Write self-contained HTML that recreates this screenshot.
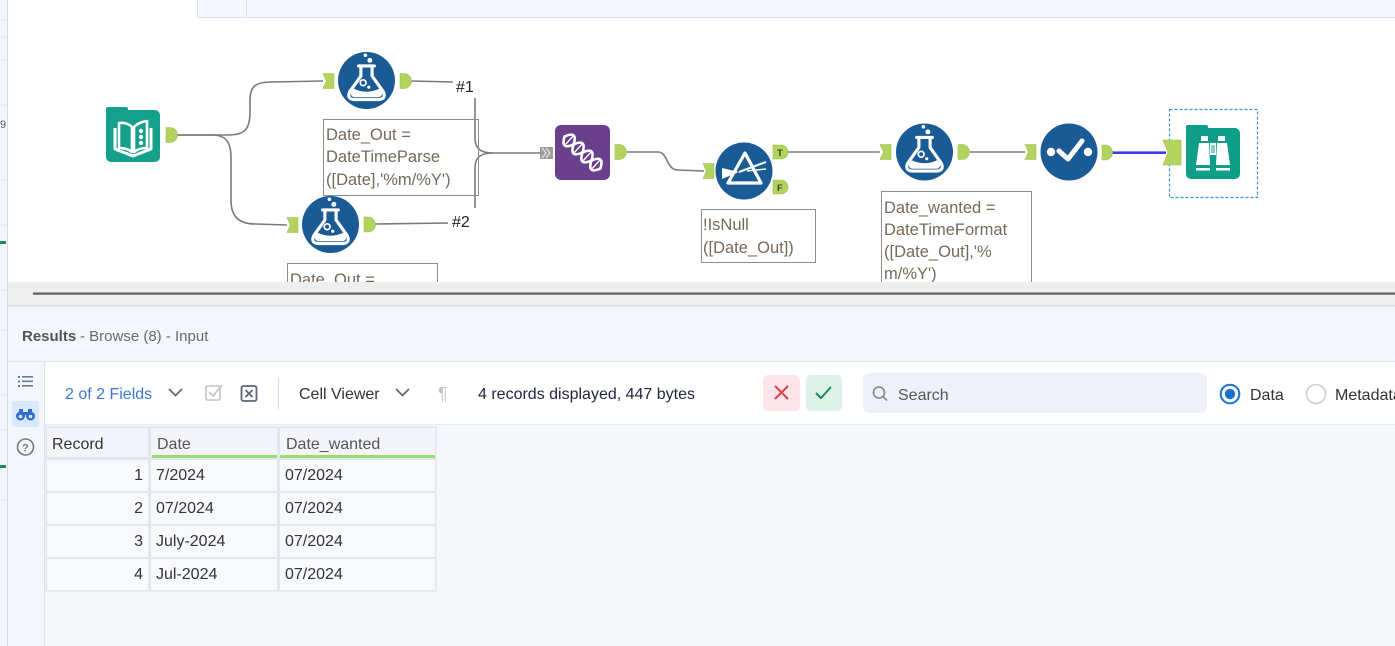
<!DOCTYPE html>
<html>
<head>
<meta charset="utf-8">
<style>
  html,body{margin:0;padding:0;width:1395px;height:646px;overflow:hidden;background:#f5f7fb;}
  svg{display:block;}
  text{font-family:"Liberation Sans", sans-serif;}
</style>
</head>
<body>
<svg width="1395" height="646" viewBox="0 0 1395 646" xmlns="http://www.w3.org/2000/svg">
  <defs>
    <clipPath id="cv"><rect x="8" y="0" width="1387" height="282"/></clipPath>
    <g id="flask">
      <circle r="28.5" fill="#1b5b95"/>
      <g transform="scale(1.12)">
        <path d="M-5,-13 L-5,-4 L-15,10 Q-18,17 -10,17 L10,17 Q18,17 15,10 L5,-4 L5,-13" fill="none" stroke="#fff" stroke-width="2.8" stroke-linejoin="round"/>
        <line x1="-7" y1="-13" x2="7" y2="-13" stroke="#fff" stroke-width="2.8" stroke-linecap="round"/>
        <path d="M-12,7 Q0,13 12,7 L14,11 Q14,15 10,15 L-10,15 Q-14,15 -14,11 Z" fill="#fff"/>
        <circle cx="-3" cy="2" r="2.6" fill="none" stroke="#fff" stroke-width="1.5"/>
        <circle cx="2" cy="6" r="1.4" fill="#fff"/>
        <circle cx="3" cy="-18" r="2.2" fill="#fff"/>
        <circle cx="-1" cy="-22.5" r="1.6" fill="#fff"/>
      </g>
    </g>
  </defs>

  <!-- canvas -->
  <rect x="8" y="0" width="1387" height="282" fill="#ffffff"/>
  <!-- left strip -->
  <rect x="0" y="0" width="7" height="646" fill="#f3f6fb"/>
  <line x1="7.5" y1="0" x2="7.5" y2="646" stroke="#d6dce6" stroke-width="1"/>
  <g stroke="#e2e7ef" stroke-width="1">
    <line x1="0" y1="20" x2="7" y2="20"/><line x1="0" y1="37" x2="7" y2="37"/>
    <line x1="0" y1="60" x2="7" y2="60"/><line x1="0" y1="105" x2="7" y2="105"/>
    <line x1="0" y1="180" x2="7" y2="180"/><line x1="0" y1="225" x2="7" y2="225"/>
    <line x1="0" y1="290" x2="7" y2="290"/><line x1="0" y1="330" x2="7" y2="330"/>
    <line x1="0" y1="395" x2="7" y2="395"/><line x1="0" y1="430" x2="7" y2="430"/>
    <line x1="0" y1="500" x2="7" y2="500"/>
  </g>
  <rect x="0" y="241" width="6" height="3" fill="#1e8a5a"/>
  <rect x="0" y="465" width="6" height="3" fill="#1e8a5a"/>
  <text x="0" y="128" font-size="11" fill="#555">9</text>

  <!-- top bar -->
  <rect x="197.5" y="-1" width="1200" height="18.5" fill="#f3f6fc" stroke="#dbe2ee"/>
  <line x1="246.5" y1="0" x2="246.5" y2="17" stroke="#dbe2ee"/>

  <g clip-path="url(#cv)">
    <!-- connectors -->
    <g fill="none" stroke="#7a7a7a" stroke-width="1.6">
      <path d="M177,135 L228,135 C246,135 250,128 250,112 L250,100 C250,86 256,82 272,82 L323,81"/>
      <path d="M177,135 L212,135 C226,135 231,142 231,158 L231,200 C231,216 238,224 256,224 L287,225"/>
      <path d="M411,81 L453,82"/>
      <path d="M375,224 L448,223"/>
      <path d="M475,98 L475,138 C475,149 481,153 493,153 L541,153"/>
      <path d="M475,208 L475,168 C475,157 481,153 493,153"/>
      <path d="M627,152 L658,152 C668,152 666,170 678,170 L704,171"/>
      <path d="M788,152 L880,152"/>
      <path d="M970,152 L1025,152"/>
    </g>
    <line x1="1112" y1="152.7" x2="1166" y2="152.7" stroke="#3b3bf0" stroke-width="2.6"/>

    <!-- #1 #2 -->
    <text x="456" y="92" font-size="16" fill="#222">#1</text>
    <text x="452" y="227" font-size="16" fill="#222">#2</text>

    <!-- Input (book) -->
    <g transform="translate(106,107)">
      <rect x="0" y="0" width="22" height="8" rx="2" fill="#14a08a"/>
      <rect x="0" y="3" width="54" height="52" rx="5" fill="#14a08a"/>
      <path d="M9,21 L9,42 L27,49 L45,42 L45,21" fill="none" stroke="#fff" stroke-width="3" stroke-linejoin="round"/>
      <path d="M13,16 Q21,15 26,20 L26,45 Q21,41 13,41 Z" fill="none" stroke="#fff" stroke-width="2.6" stroke-linejoin="round"/>
      <path d="M28,20 Q33,15 41,14 L41,41 Q33,41 28,45 Z" fill="none" stroke="#fff" stroke-width="2.6" stroke-linejoin="round"/>
      <circle cx="35" cy="24" r="2.2" fill="#fff"/>
      <circle cx="35" cy="30" r="2.2" fill="#fff"/>
      <circle cx="35" cy="36" r="2.2" fill="#fff"/>
    </g>

    <!-- Formula 1 and 2 -->
    <use href="#flask" transform="translate(366.5,80.5)"/>
    <use href="#flask" transform="translate(330.5,224.5)"/>

    <!-- Label 1 -->
    <rect x="323.5" y="119.5" width="155" height="76" fill="none" stroke="#8c8c8c" stroke-width="1"/>
    <g font-size="16.5" fill="#76695a">
      <text x="326" y="140">Date_Out =</text>
      <text x="326" y="162">DateTimeParse</text>
      <text x="326" y="185">([Date],'%m/%Y')</text>
    </g>
    <!-- Label 2 -->
    <rect x="287.5" y="263.5" width="150" height="40" fill="none" stroke="#8c8c8c" stroke-width="1"/>
    <text x="290" y="285" font-size="16.5" fill="#76695a">Date_Out =</text>

    <!-- Join (DNA) -->
    <rect x="555" y="125" width="55" height="55" rx="6" fill="#6a3f8c"/>
    <g transform="translate(582.5,152.5) rotate(42)" fill="none" stroke="#fff" stroke-width="2.6" stroke-linecap="round">
      <path d="M-24,0 C-20,-9 -16,-9 -12,0 C-8,9 -4,9 0,0 C4,-9 8,-9 12,0 C16,9 20,9 24,0"/>
      <path d="M-24,0 C-20,9 -16,9 -12,0 C-8,-9 -4,-9 0,0 C4,9 8,9 12,0 C16,-9 20,-9 24,0"/>
      <g stroke-width="1.4">
        <line x1="-18" y1="-5" x2="-18" y2="5"/>
        <line x1="-6" y1="-5" x2="-6" y2="5"/>
        <line x1="6" y1="-5" x2="6" y2="5"/>
        <line x1="18" y1="-5" x2="18" y2="5"/>
      </g>
    </g>
    <!-- join input (gray chevrons) -->
    <g transform="translate(540,147)">
      <rect x="0" y="0" width="13" height="12" fill="#9b9b9b"/>
      <path d="M2,1 L6,6 L2,11 M6,1 L10,6 L6,11" stroke="#e6e6e6" stroke-width="1.3" fill="none"/>
    </g>

    <!-- Filter -->
    <g transform="translate(744,171)">
      <circle r="28.5" fill="#1b5b95"/>
      <path d="M1,-18 L-16,12 L17,12 Z" fill="none" stroke="#fff" stroke-width="3.2" stroke-linejoin="round"/>
      <path d="M-22,-3 L-5,1 L-22,8 Z" fill="#fff"/>
      <line x1="-5" y1="1" x2="22" y2="-9" stroke="#fff" stroke-width="2"/>
      <line x1="3" y1="0" x2="22" y2="-2" stroke="#fff" stroke-width="1.4"/>
    </g>

    <!-- Filter label -->
    <rect x="701.5" y="209.5" width="114" height="53" fill="none" stroke="#8c8c8c" stroke-width="1"/>
    <g font-size="16.5" fill="#76695a">
      <text x="703" y="230">!IsNull</text>
      <text x="703" y="253">([Date_Out])</text>
    </g>

    <!-- Formula 3 -->
    <use href="#flask" transform="translate(924.5,152)"/>
    <rect x="881.5" y="191.5" width="150" height="120" fill="none" stroke="#8c8c8c" stroke-width="1"/>
    <g font-size="16.5" fill="#76695a">
      <text x="884" y="213">Date_wanted =</text>
      <text x="884" y="235">DateTimeFormat</text>
      <text x="884" y="257">([Date_Out],'%</text>
      <text x="884" y="279">m/%Y')</text>
    </g>

    <!-- Select (check) -->
    <g transform="translate(1069,152)">
      <circle r="28.5" fill="#1b5b95"/>
      <circle cx="-18" cy="0" r="4.2" fill="#fff"/>
      <circle cx="19" cy="0" r="4.2" fill="#fff"/>
      <path d="M-10,-1 L-1,7 L13,-11" fill="none" stroke="#fff" stroke-width="5" stroke-linecap="round" stroke-linejoin="round"/>
    </g>

    <!-- Browse -->
    <rect x="1169.5" y="109.5" width="88" height="88" fill="none" stroke="#3a8ee6" stroke-width="1.2" stroke-dasharray="3,2"/>
    <g transform="translate(1186,125)">
      <rect x="0" y="0" width="22" height="8" rx="2" fill="#0f9e88"/>
      <rect x="0" y="3" width="54" height="51" rx="5" fill="#0f9e88"/>
      <rect x="15" y="11" width="7" height="5" fill="#fff"/>
      <rect x="32" y="11" width="7" height="5" fill="#fff"/>
      <path d="M13,18 L23,18 L24,40 L10,40 Z" fill="#fff"/>
      <path d="M31,18 L41,18 L44,40 L30,40 Z" fill="#fff"/>
      <rect x="24" y="18" width="6" height="12" fill="#fff"/>
      <rect x="10" y="43" width="14" height="2.5" fill="#fff"/>
      <rect x="30" y="43" width="14" height="2.5" fill="#fff"/>
      <line x1="26" y1="20" x2="26" y2="28" stroke="#0f9e88" stroke-width="1"/>
      <line x1="28" y1="20" x2="28" y2="28" stroke="#0f9e88" stroke-width="1"/>
    </g>

    <!-- anchors -->
    <g fill="#b2d45f" stroke="#9cbf4a" stroke-width="0.6">
      <path d="M166,127.5 h4 a7.5,7.5 0 0 1 0,15 h-4 z"/>
      <path d="M400,73.5 h4 a7.5,7.5 0 0 1 0,15 h-4 z"/>
      <path d="M364,217 h4 a7.5,7.5 0 0 1 0,15 h-4 z"/>
      <path d="M615,144.5 h4 a7.5,7.5 0 0 1 0,15 h-4 z"/>
      <path d="M958,144.5 h4 a7.5,7.5 0 0 1 0,15 h-4 z"/>
      <path d="M1102,145 h3 a7.5,7.5 0 0 1 0,15 h-3 z"/>
      <path d="M323,73.5 L334,73.5 L334,88.5 L323,88.5 L326.5,81 Z"/>
      <path d="M287,217.5 L298,217.5 L298,232.5 L287,232.5 L290.5,225 Z"/>
      <path d="M703,163.5 L714,163.5 L714,178.5 L703,178.5 L706.5,171 Z"/>
      <path d="M880,144.5 L891,144.5 L891,159.5 L880,159.5 L883.5,152 Z"/>
      <path d="M1025,144.5 L1036,144.5 L1036,159.5 L1025,159.5 L1028.5,152 Z"/>
      <path d="M1163,140 L1181,140 L1181,165 L1163,165 L1168,152.5 Z"/>
      <path d="M773,145 h8 a7,7 0 0 1 0,14 h-8 z"/>
      <path d="M773,180 h8 a7,7 0 0 1 0,14 h-8 z"/>
    </g>
    <text x="777" y="156" font-size="9.5" font-weight="bold" fill="#3a4a20">T</text>
    <text x="777" y="191" font-size="9.5" font-weight="bold" fill="#3a4a20">F</text>
  </g>

  <!-- splitter -->
  <rect x="8" y="282" width="1387" height="24" fill="#eeeeee"/>
  <rect x="33" y="292.5" width="1362" height="2.2" fill="#5e5e5e"/>
  <rect x="8" y="305" width="1387" height="2" fill="#e0e6ee"/>

  <!-- results header -->
  <rect x="8" y="307" width="1387" height="54" fill="#f3f6fb"/>
  <text x="22" y="341" font-size="15" font-weight="bold" fill="#555">Results</text>
  <text x="80" y="341" font-size="15" fill="#6a6a6a"> - Browse (8) - Input</text>
  <line x1="8" y1="361.5" x2="1395" y2="361.5" stroke="#e0e6ee"/>

  <!-- sidebar -->
  <rect x="8" y="362" width="36" height="284" fill="#f3f6fb"/>
  <line x1="44.5" y1="362" x2="44.5" y2="646" stroke="#dde3ec"/>
  <g fill="#6a7a90">
    <rect x="18" y="376" width="2" height="2"/><rect x="22" y="376" width="11" height="1.6"/>
    <rect x="18" y="380.5" width="2" height="2"/><rect x="22" y="380.5" width="11" height="1.6"/>
    <rect x="18" y="385" width="2" height="2"/><rect x="22" y="385" width="11" height="1.6"/>
  </g>
  <rect x="12" y="401" width="27" height="26" rx="3" fill="#dbe8fa"/>
  <g fill="#2f6fcf">
    <circle cx="20.5" cy="416" r="4.5"/><circle cx="30.5" cy="416" r="4.5"/>
    <rect x="19" y="409" width="4" height="5"/><rect x="28" y="409" width="4" height="5"/>
    <rect x="23" y="412" width="5" height="3"/>
  </g>
  <circle cx="20.5" cy="416.5" r="1.8" fill="#dbe8fa"/><circle cx="30.5" cy="416.5" r="1.8" fill="#dbe8fa"/>
  <circle cx="25.5" cy="447" r="8" fill="none" stroke="#777" stroke-width="1.6"/>
  <text x="22" y="451.5" font-size="11" font-weight="bold" fill="#777">?</text>

  <!-- toolbar -->
  <rect x="45" y="362" width="1350" height="62" fill="#ffffff"/>
  <line x1="45" y1="424.5" x2="1395" y2="424.5" stroke="#e6eaf1"/>
  <text x="65" y="399" font-size="16" fill="#3a78d8">2 of 2 Fields</text>
  <path d="M169,389 L175.5,395.5 L182,389" fill="none" stroke="#667" stroke-width="1.8"/>
  <rect x="206" y="386" width="14" height="14" rx="1.5" fill="none" stroke="#c4c4c4" stroke-width="1.6"/>
  <path d="M209,392 L213,396 L222,385" fill="none" stroke="#c4c4c4" stroke-width="1.6"/>
  <rect x="241.5" y="386" width="15" height="15" rx="2" fill="none" stroke="#5d6675" stroke-width="1.8"/>
  <path d="M245.5,390 L252.5,397 M252.5,390 L245.5,397" stroke="#5d6675" stroke-width="1.8"/>
  <line x1="278.5" y1="378" x2="278.5" y2="409" stroke="#d8dde5" stroke-width="1.2"/>
  <text x="299" y="399" font-size="16" fill="#333">Cell Viewer</text>
  <path d="M396,389 L402.5,395.5 L409,389" fill="none" stroke="#667" stroke-width="1.8"/>
  <text x="438" y="400" font-size="18" fill="#c4c4c4">¶</text>
  <text x="478" y="399" font-size="16" fill="#23263f">4 records displayed, 447 bytes</text>
  <rect x="763" y="375" width="37" height="36" rx="5" fill="#fde6e9"/>
  <path d="M775,386 L788,399 M788,386 L775,399" stroke="#e0404f" stroke-width="2"/>
  <rect x="806" y="375" width="36" height="36" rx="5" fill="#ddf3e9"/>
  <path d="M816,393 L821,398 L831,387" fill="none" stroke="#1f8a52" stroke-width="2"/>
  <rect x="863" y="373" width="344" height="40" rx="6" fill="#eef2f8"/>
  <circle cx="879" cy="392.5" r="5.5" fill="none" stroke="#7a8494" stroke-width="1.6"/>
  <line x1="883" y1="396.5" x2="887" y2="400.5" stroke="#7a8494" stroke-width="1.6"/>
  <text x="898" y="400" font-size="16" fill="#555">Search</text>
  <circle cx="1230" cy="394" r="9.3" fill="none" stroke="#1a6fd0" stroke-width="2"/>
  <circle cx="1230" cy="394" r="5.2" fill="#1a6fd0"/>
  <text x="1250" y="400" font-size="16" fill="#333">Data</text>
  <circle cx="1316" cy="394" r="9.5" fill="none" stroke="#cfcfcf" stroke-width="1.6"/>
  <text x="1335" y="400" font-size="16" fill="#333">Metadata</text>

  <!-- table -->
  <rect x="45.5" y="426.5" width="391" height="165" fill="#e1e6ef"/>
  <rect x="47" y="428" width="101" height="29" fill="#f3f5fa"/>
  <rect x="151" y="428" width="126" height="29" fill="#f3f5fa"/>
  <rect x="280" y="428" width="155" height="29" fill="#f3f5fa"/>
  <rect x="152" y="455" width="125" height="3" fill="#93e070"/>
  <rect x="280" y="455" width="155" height="3" fill="#93e070"/>
  <g font-size="16" fill="#333">
    <text x="52" y="449">Record</text>
    <text x="157" y="449" fill="#555">Date</text>
    <text x="286" y="449" fill="#555">Date_wanted</text>
  </g>
  <g fill="#f8f9fc">
    <rect x="47" y="460" width="101" height="31"/><rect x="151" y="460" width="126" height="31"/><rect x="280" y="460" width="155" height="31"/>
    <rect x="47" y="493" width="101" height="31"/><rect x="151" y="493" width="126" height="31"/><rect x="280" y="493" width="155" height="31"/>
    <rect x="47" y="526" width="101" height="31"/><rect x="151" y="526" width="126" height="31"/><rect x="280" y="526" width="155" height="31"/>
    <rect x="47" y="559" width="101" height="31"/><rect x="151" y="559" width="126" height="31"/><rect x="280" y="559" width="155" height="31"/>
  </g>
  <g font-size="16" fill="#333">
    <text x="143" y="480" text-anchor="end">1</text>
    <text x="156" y="480">7/2024</text>
    <text x="285" y="480">07/2024</text>
    <text x="143" y="513" text-anchor="end">2</text>
    <text x="156" y="513">07/2024</text>
    <text x="285" y="513">07/2024</text>
    <text x="143" y="546" text-anchor="end">3</text>
    <text x="156" y="546">July-2024</text>
    <text x="285" y="546">07/2024</text>
    <text x="143" y="579" text-anchor="end">4</text>
    <text x="156" y="579">Jul-2024</text>
    <text x="285" y="579">07/2024</text>
  </g>
</svg>
</body>
</html>
